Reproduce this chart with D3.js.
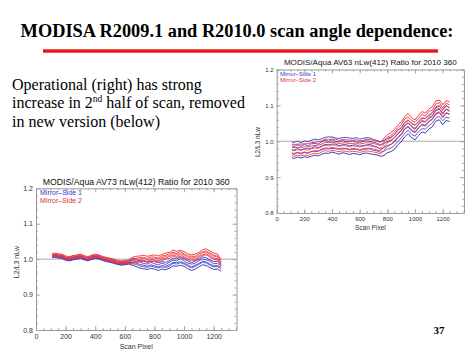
<!DOCTYPE html>
<html><head><meta charset="utf-8">
<script src="https://cdn.jsdelivr.net/npm/d3@7"></script>
<style>html,body{margin:0;padding:0;background:#fff;}svg{display:block;}</style>
</head><body>
<script>
// ---------- data ----------
const slideTitle = "MODISA R2009.1 and R2010.0 scan angle dependence:";
const bodyLines = ["Operational (right) has strong", "increase in 2", "in new version (below)"];
const pageNumber = "37";
const legendLabels = ["Mirror\u2013Side 1", "Mirror\u2013Side 2"];
const xTickValues = [0, 200, 400, 600, 800, 1000, 1200];
const yTickValues = [0.8, 0.9, 1.0, 1.1, 1.2];
const scanPixels = [110,125,150,175,200,225,250,275,300,325,350,375,400,425,450,475,500,525,550,575,600,625,650,675,700,725,750,775,800,825,850,875,900,925,950,975,1000,1025,1050,1075,1100,1125,1150,1175,1200,1225,1250];

// Right chart: operational AV63
const av63Title = "MODIS/Aqua AV63 nLw(412) Ratio for 2010 360";
const av63Side1 = [
  [0.997,0.997,1.000,0.996,1.001,0.999,1.003,1.006,1.004,1.007,1.011,1.012,1.012,1.009,1.008,1.010,1.011,1.009,1.008,1.010,1.006,1.008,1.010,1.009,1.005,1.002,0.998,1.003,1.008,1.011,1.018,1.031,1.036,1.052,1.058,1.049,1.046,1.054,1.063,1.064,1.071,1.079,1.093,1.098,1.088,1.100,1.092],
  [0.988,0.985,0.990,0.986,0.991,0.987,0.993,0.994,0.992,0.998,1.003,0.999,1.004,1.000,0.998,1.002,0.999,0.998,1.001,0.998,0.997,0.999,1.002,0.999,0.997,0.995,0.990,0.994,0.999,1.003,1.009,1.020,1.029,1.042,1.051,1.040,1.033,1.047,1.055,1.054,1.063,1.069,1.085,1.090,1.075,1.089,1.083],
  [0.977,0.975,0.980,0.976,0.979,0.979,0.981,0.985,0.982,0.987,0.991,0.990,0.992,0.992,0.988,0.990,0.991,0.987,0.989,0.990,0.986,0.988,0.990,0.991,0.987,0.984,0.978,0.982,0.988,0.991,0.997,1.010,1.018,1.034,1.040,1.029,1.024,1.037,1.046,1.042,1.054,1.061,1.075,1.080,1.066,1.078,1.075],
  [0.966,0.963,0.968,0.964,0.969,0.966,0.971,0.971,0.972,0.976,0.979,0.979,0.980,0.979,0.978,0.978,0.979,0.976,0.977,0.978,0.974,0.977,0.978,0.979,0.975,0.973,0.969,0.972,0.978,0.981,0.988,0.999,1.009,1.022,1.031,1.019,1.014,1.027,1.035,1.034,1.043,1.051,1.065,1.069,1.057,1.067,1.065],
  [0.954,0.952,0.956,0.953,0.957,0.955,0.958,0.961,0.959,0.964,0.967,0.966,0.970,0.967,0.964,0.968,0.966,0.963,0.966,0.965,0.962,0.966,0.967,0.965,0.963,0.962,0.958,0.960,0.968,0.971,0.977,0.990,0.998,1.012,1.021,1.010,1.004,1.016,1.026,1.023,1.034,1.040,1.056,1.060,1.046,1.058,1.055]
];
const av63Side2 = [
  [0.992,0.991,0.992,0.992,0.993,0.993,0.996,0.997,0.998,1.001,1.006,1.005,1.006,1.006,1.002,1.005,1.004,1.003,1.003,1.004,1.001,1.002,1.006,1.004,1.003,1.001,0.997,1.008,1.018,1.024,1.032,1.045,1.054,1.068,1.077,1.066,1.059,1.072,1.083,1.078,1.090,1.096,1.112,1.115,1.102,1.113,1.110],
  [0.983,0.982,0.983,0.983,0.984,0.984,0.987,0.988,0.989,0.992,0.997,0.996,0.997,0.996,0.994,0.995,0.996,0.993,0.994,0.995,0.992,0.994,0.996,0.995,0.994,0.991,0.988,0.999,1.011,1.016,1.025,1.037,1.046,1.062,1.068,1.058,1.053,1.063,1.075,1.070,1.083,1.087,1.104,1.108,1.093,1.106,1.101],
  [0.975,0.973,0.976,0.975,0.977,0.975,0.979,0.981,0.980,0.985,0.989,0.987,0.990,0.988,0.986,0.988,0.987,0.985,0.987,0.986,0.984,0.986,0.988,0.987,0.985,0.983,0.980,0.992,1.004,1.009,1.018,1.030,1.038,1.053,1.060,1.050,1.044,1.056,1.066,1.063,1.074,1.080,1.096,1.100,1.086,1.098,1.094],
  [0.968,0.966,0.969,0.967,0.970,0.968,0.972,0.974,0.973,0.978,0.982,0.980,0.983,0.981,0.979,0.981,0.980,0.978,0.980,0.979,0.977,0.979,0.981,0.980,0.978,0.976,0.973,0.984,0.996,1.001,1.010,1.022,1.030,1.045,1.052,1.042,1.036,1.048,1.058,1.055,1.066,1.072,1.088,1.092,1.078,1.090,1.086],
  [0.960,0.958,0.961,0.959,0.962,0.960,0.964,0.966,0.965,0.970,0.974,0.972,0.975,0.973,0.971,0.973,0.972,0.970,0.972,0.971,0.969,0.971,0.973,0.972,0.970,0.968,0.964,0.974,0.986,0.991,1.000,1.012,1.020,1.035,1.042,1.032,1.026,1.038,1.048,1.045,1.056,1.062,1.078,1.082,1.068,1.080,1.076]
];

// Left chart: new version AV73
const av73Title = "MODIS/Aqua AV73 nLw(412) Ratio for 2010 360";
const av73Side1 = [
  [1.012,1.013,1.011,1.010,1.005,1.003,1.006,1.008,1.010,1.006,1.003,1.007,1.010,1.008,1.004,1.001,0.999,0.996,0.993,0.991,0.992,0.994,1.002,1.000,0.996,0.994,0.992,0.995,0.993,0.990,0.993,0.991,0.995,1.003,1.001,1.005,1.001,0.995,0.990,0.994,1.000,1.006,1.004,0.998,0.993,0.994,0.988],
  [1.009,1.011,1.008,1.009,1.002,1.001,1.005,1.005,1.008,1.003,1.001,1.006,1.007,1.006,1.001,0.999,0.996,0.994,0.990,0.989,0.991,0.991,0.996,0.994,0.992,0.988,0.986,0.991,0.987,0.984,0.989,0.985,0.991,0.997,0.995,1.001,0.995,0.989,0.986,0.988,0.996,1.000,0.998,0.994,0.987,0.988,0.982],
  [1.008,1.009,1.007,1.006,1.001,0.999,1.002,1.004,1.006,1.002,0.999,1.003,1.006,1.004,1.000,0.997,0.995,0.992,0.989,0.987,0.988,0.990,0.991,0.989,0.985,0.983,0.980,0.984,0.981,0.978,0.982,0.980,0.984,0.991,0.990,0.993,0.989,0.984,0.978,0.983,0.988,0.994,0.992,0.986,0.981,0.982,0.977],
  [1.006,1.007,1.005,1.004,0.999,0.997,1.000,1.002,1.004,1.000,0.997,1.001,1.004,1.002,0.998,0.995,0.993,0.990,0.987,0.985,0.986,0.988,0.987,0.985,0.981,0.979,0.977,0.980,0.978,0.975,0.978,0.976,0.980,0.988,0.986,0.990,0.986,0.980,0.975,0.979,0.985,0.991,0.989,0.983,0.978,0.979,0.973],
  [1.004,1.005,1.003,1.002,0.997,0.995,0.998,1.000,1.002,0.998,0.995,0.999,1.002,1.000,0.996,0.993,0.991,0.988,0.985,0.983,0.984,0.986,0.983,0.979,0.975,0.973,0.971,0.974,0.972,0.968,0.972,0.970,0.974,0.981,0.980,0.983,0.980,0.973,0.968,0.972,0.978,0.984,0.982,0.976,0.971,0.972,0.966]
];
const av73Side2 = [
  [1.016,1.017,1.015,1.014,1.009,1.007,1.010,1.012,1.014,1.010,1.007,1.011,1.014,1.012,1.008,1.005,1.003,1.000,0.997,0.995,0.996,0.998,1.005,1.008,1.009,1.011,1.008,1.010,1.012,1.009,1.013,1.017,1.019,1.026,1.022,1.025,1.021,1.015,1.012,1.014,1.019,1.027,1.029,1.023,1.017,1.015,0.998],
  [1.013,1.015,1.012,1.012,1.006,1.005,1.009,1.009,1.012,1.007,1.005,1.010,1.011,1.010,1.005,1.003,1.000,0.998,0.994,0.993,0.995,0.995,0.999,1.002,1.005,1.005,1.002,1.006,1.006,1.003,1.009,1.011,1.015,1.020,1.016,1.021,1.015,1.009,1.008,1.008,1.015,1.021,1.023,1.017,1.011,1.009,0.993],
  [1.012,1.013,1.011,1.010,1.005,1.003,1.006,1.008,1.010,1.006,1.003,1.007,1.010,1.008,1.004,1.001,0.999,0.996,0.993,0.991,0.992,0.994,0.996,0.999,1.000,1.002,0.999,1.001,1.003,1.000,1.004,1.008,1.010,1.017,1.013,1.016,1.012,1.006,1.003,1.005,1.010,1.018,1.020,1.014,1.008,1.006,0.990],
  [1.011,1.010,1.009,1.007,1.003,1.000,1.004,1.007,1.007,1.004,1.000,1.005,1.007,1.006,1.001,0.999,0.996,0.993,0.990,0.988,0.990,0.991,0.991,0.994,0.997,0.997,0.994,0.998,0.998,0.995,1.001,1.003,1.007,1.012,1.008,1.013,1.007,1.001,1.000,1.000,1.007,1.013,1.015,1.009,1.003,1.001,0.985],
  [1.008,1.009,1.007,1.006,1.001,0.999,1.002,1.004,1.006,1.002,0.999,1.003,1.006,1.004,1.000,0.997,0.995,0.992,0.989,0.987,0.988,0.990,0.988,0.991,0.992,0.994,0.991,0.993,0.995,0.992,0.996,1.000,1.002,1.009,1.005,1.008,1.004,0.998,0.995,0.997,1.002,1.010,1.012,1.006,1.000,0.998,0.982]
];

// ---------- drawing ----------
const W = 474, H = 355;
const svg = d3.select("body").append("svg").attr("width", W).attr("height", H);
svg.append("rect").attr("width", W).attr("height", H).attr("fill", "#fff");

function fitWidth(sel, target) {
  const n = sel.node();
  const fs = parseFloat(sel.attr("font-size"));
  const l = n.getComputedTextLength();
  sel.attr("font-size", (fs * target / l).toFixed(2));
}

const st = svg.append("text").attr("x", 237).attr("y", 36.5).attr("text-anchor", "middle")
  .attr("font-family", "Liberation Serif, Times New Roman, serif").attr("font-weight", "bold")
  .attr("font-size", 19).attr("fill", "#000").text(slideTitle);
fitWidth(st, 433);
svg.append("rect").attr("x", 43).attr("y", 49.3).attr("width", 395).attr("height", 3.4).attr("fill", "#e8141c");

const bodyFont = "Liberation Serif, Times New Roman, serif";
svg.append("text").attr("x", 12).attr("y", 89.5).attr("font-family", bodyFont).attr("font-size", 16).text(bodyLines[0]);
const l2 = svg.append("text").attr("x", 12).attr("y", 108).attr("font-family", bodyFont).attr("font-size", 16);
l2.append("tspan").text(bodyLines[1]);
l2.append("tspan").attr("font-size", 9.5).attr("dy", -6).text("nd");
l2.append("tspan").attr("dy", 6).text(" half of scan, removed");
svg.append("text").attr("x", 12).attr("y", 126.5).attr("font-family", bodyFont).attr("font-size", 16).text(bodyLines[2]);

svg.append("text").attr("x", 439).attr("y", 334).attr("text-anchor", "middle").attr("font-family", bodyFont)
  .attr("font-weight", "bold").attr("font-size", 11).text(pageNumber);

const blues = ["#2b2bd6", "#4a35c4", "#3030b8", "#5b3fb8", "#2020a8"];
const reds  = ["#ff1a1a", "#e8283c", "#f04848", "#d8304a", "#ff3030"];

function drawChart(cfg) {
  const g = svg.append("g");
  const x = d3.scaleLinear().domain([0, 1354]).range([cfg.left, cfg.right]);
  const y = d3.scaleLinear().domain([0.8, 1.2]).range([cfg.bottom, cfg.top]);
  const sans = "Liberation Sans, Arial, Helvetica, sans-serif";

  const t = g.append("text").attr("x", (cfg.left + cfg.right) / 2).attr("y", cfg.titleY)
    .attr("text-anchor", "middle").attr("font-family", sans).attr("font-size", 9).attr("fill", "#111").text(cfg.title);
  fitWidth(t, cfg.titleW);

  g.append("line").attr("x1", cfg.left).attr("x2", cfg.right).attr("y1", y(1)).attr("y2", y(1))
    .attr("stroke", "#aaa").attr("stroke-width", 1);

  const line = d3.line().x((d, i) => x(scanPixels[i])).y(d => y(d));
  const drawOne = (s, col) => g.append("path").attr("d", line(s)).attr("fill", "none").attr("stroke", col)
      .attr("stroke-width", 1).attr("stroke-opacity", 0.85);
  if (cfg.interleave) {
    cfg.side1.forEach((s, i) => {
      drawOne(s, blues[i % blues.length]);
      drawOne(cfg.side2[i], reds[i % reds.length]);
    });
  } else {
    cfg.side1.forEach((s, i) => drawOne(s, blues[i % blues.length]));
    cfg.side2.forEach((s, i) => drawOne(s, reds[i % reds.length]));
  }

  const major = cfg.tickMajor, minor = cfg.tickMinor;
  const ax = (axis, tr) => g.append("g").attr("transform", tr).call(axis)
    .call(a => a.select(".domain").attr("stroke", "#999"))
    .call(a => a.selectAll(".tick line").attr("stroke", "#aaa"));
  const xMinor = d3.range(0, 1354, 50);
  const yMinor = d3.range(0.8, 1.2001, 0.02);
  ax(d3.axisBottom(x).tickValues(xMinor).tickSize(-minor).tickFormat(""), `translate(0,${cfg.bottom})`).select(".domain").remove();
  ax(d3.axisTop(x).tickValues(xMinor).tickSize(-minor).tickFormat(""), `translate(0,${cfg.top})`).select(".domain").remove();
  ax(d3.axisLeft(y).tickValues(yMinor).tickSize(-minor).tickFormat(""), `translate(${cfg.left},0)`).select(".domain").remove();
  ax(d3.axisRight(y).tickValues(yMinor).tickSize(-minor).tickFormat(""), `translate(${cfg.right},0)`).select(".domain").remove();
  const xb = ax(d3.axisBottom(x).tickValues(xTickValues).tickSize(-major).tickSizeOuter(0).tickPadding(cfg.xPad).tickFormat(d3.format("d")), `translate(0,${cfg.bottom})`);
  ax(d3.axisTop(x).tickValues(xTickValues).tickSize(-major).tickSizeOuter(0).tickFormat(""), `translate(0,${cfg.top})`);
  const yl = ax(d3.axisLeft(y).tickValues(yTickValues).tickSize(-major).tickSizeOuter(0).tickPadding(cfg.yPad).tickFormat(d3.format(".1f")), `translate(${cfg.left},0)`);
  ax(d3.axisRight(y).tickValues(yTickValues).tickSize(-major).tickSizeOuter(0).tickFormat(""), `translate(${cfg.right},0)`);
  [xb, yl].forEach(a => a.selectAll("text").attr("font-family", sans).attr("font-size", cfg.tickFont).attr("fill", "#333"));

  g.append("text").attr("x", (cfg.left + cfg.right) / 2).attr("y", cfg.xLabelY).attr("text-anchor", "middle")
    .attr("font-family", sans).attr("font-size", cfg.labelFont).attr("fill", "#333").text("Scan Pixel");
  g.append("text").attr("transform", `translate(${cfg.yLabelX},${cfg.yLabelY}) rotate(-90)`).attr("text-anchor", "middle")
    .attr("font-family", sans).attr("font-size", cfg.labelFont).attr("fill", "#333").text("L2/L3 nLw");

  g.append("text").attr("x", cfg.legX).attr("y", cfg.legY).attr("font-family", sans).attr("font-size", cfg.legFont)
    .attr("fill", "#3434d0").text(legendLabels[0]);
  g.append("text").attr("x", cfg.legX).attr("y", cfg.legY + cfg.legGap).attr("font-family", sans).attr("font-size", cfg.legFont)
    .attr("fill", "#e03030").text(legendLabels[1]);
}

drawChart({
  title: av63Title, titleY: 65, titleW: 173,
  left: 276.7, right: 464, top: 69.5, bottom: 213,
  side1: av63Side1, side2: av63Side2, interleave: true,
  tickMajor: 4, tickMinor: 2, xPad: 4, yPad: 3, tickFont: 6, labelFont: 6.5,
  xLabelY: 230, yLabelX: 260, yLabelY: 142,
  legX: 280, legY: 76, legGap: 6, legFont: 6
});

drawChart({
  title: av73Title, titleY: 184.5, titleW: 187,
  left: 36, right: 236.5, top: 188.3, bottom: 330,
  side1: av73Side1, side2: av73Side2, interleave: false,
  tickMajor: 4, tickMinor: 2, xPad: 4, yPad: 3, tickFont: 7, labelFont: 7,
  xLabelY: 349, yLabelX: 19, yLabelY: 262,
  legX: 40, legY: 195, legGap: 7.5, legFont: 7
});
</script>
</body></html>
